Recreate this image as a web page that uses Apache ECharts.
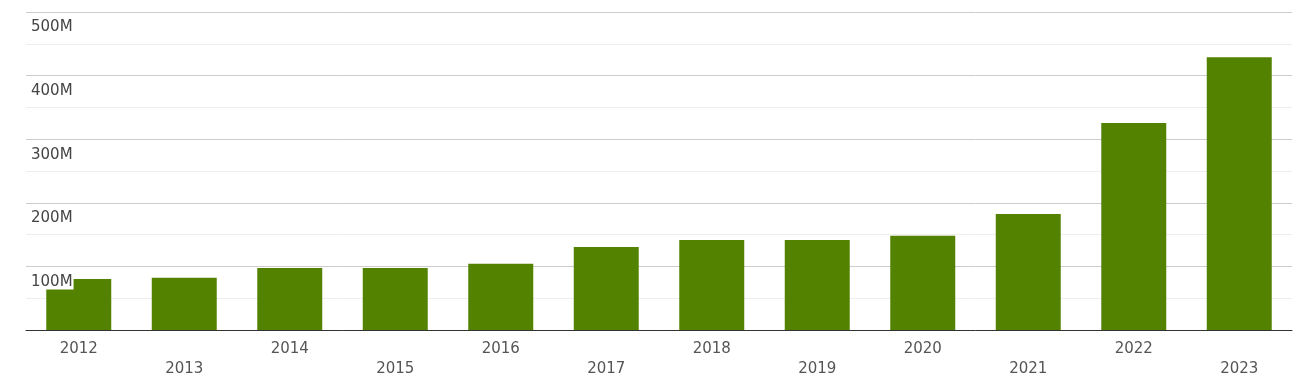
<!DOCTYPE html>
<html>
<head>
<meta charset="utf-8">
<script src="https://cdn.jsdelivr.net/npm/echarts@6/dist/echarts.min.js"></script>
<style>
html,body{margin:0;padding:0;background:#fff;}
#chart{width:1293px;height:384px;}
</style>
</head>
<body>
<div id="chart"></div>
<script>
const categories = ['2012','2013','2014','2015','2016','2017','2018','2019','2020','2021','2022','2023'];
const values = [80e6, 82e6, 97.5e6, 97.5e6, 104e6, 130.5e6, 141.5e6, 141.5e6, 148e6, 182.5e6, 325.5e6, 429e6];

const yCommon = {type: 'value', min: 0, max: 500e6, interval: 100e6, axisLine: {show: false}, axisTick: {show: false}};

const chart = echarts.init(document.getElementById('chart'));
chart.setOption({
  animation: false,
  grid: {left: 26, right: 1, top: 12, bottom: 54, containLabel: false},
  xAxis: {
    type: 'category',
    data: categories,
    axisLine: {show: true, lineStyle: {color: '#333', width: 1}},
    axisTick: {show: false},
    z: 5,
    axisLabel: {
      color: '#555',
      fontSize: 15,
      fontFamily: 'DejaVu Sans',
      margin: 9,
      lineHeight: 20,
      interval: 0,
      formatter: function (v, i) { return i % 2 ? '\n' + v : v; }
    }
  },
  yAxis: [
    Object.assign({}, yCommon, {
      z: 0,
      splitLine: {show: true, lineStyle: {color: '#ccc', width: 1}},
      minorTick: {show: false, splitNumber: 2},
      minorSplitLine: {show: true, lineStyle: {color: '#eee', width: 1}},
      axisLabel: {show: false}
    }),
    Object.assign({}, yCommon, {
      position: 'left',
      z: 10,
      splitLine: {show: false},
      axisLabel: {
        inside: true,
        showMinLabel: false,
        color: '#444',
        fontSize: 15,
        fontFamily: 'DejaVu Sans',
        margin: 4,
        verticalAlign: 'top',
        padding: [7, 0, 0, 0],
        formatter: function (v) { return '{a|' + (v / 1e6) + 'M}'; },
        rich: {a: {color: '#444', fontSize: 15, fontFamily: 'DejaVu Sans', backgroundColor: '#fff', padding: [1, 1, 0, 1]}}
      }
    })
  ],
  series: [{
    type: 'bar',
    data: values,
    barWidth: '61.6%',
    itemStyle: {color: '#538200'},
    z: 2
  }]
});
</script>
</body>
</html>
